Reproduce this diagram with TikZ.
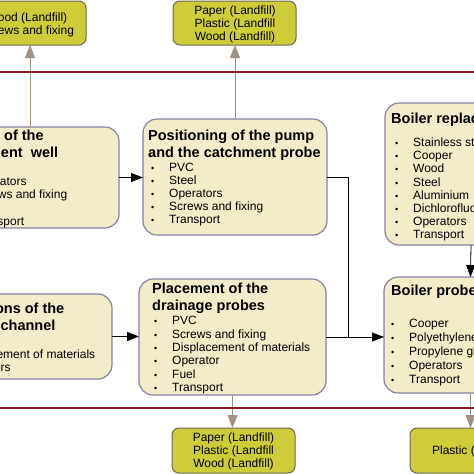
\documentclass[tikz,border=0pt]{standalone}
\usepackage{fontspec}
\setmainfont{Liberation Sans}
\usetikzlibrary{arrows.meta}
\definecolor{beigefill}{RGB}{243,236,200}
\definecolor{beigedraw}{RGB}{135,130,165}
\definecolor{yfill}{RGB}{207,204,58}
\definecolor{ydraw}{RGB}{105,105,85}
\definecolor{taupe}{RGB}{160,145,130}
\definecolor{darkred}{RGB}{145,20,25}
\newcommand{\bul}{\makebox[18pt][l]{\fontsize{9}{9}\selectfont\textbullet}}
\newcommand{\fs}{\rule{0pt}{10pt}}
\newcommand{\ft}{\rule{0pt}{11.5pt}}
\begin{document}
\begin{tikzpicture}[x=1pt,y=-1pt,
  box/.style={draw=beigedraw, fill=beigefill, line width=1.2pt, rounded corners=14pt, anchor=north west, inner sep=0pt, outer sep=0pt},
  ybox/.style={draw=ydraw, fill=yfill, line width=1pt, rounded corners=7pt, anchor=north west, inner sep=0pt, outer sep=0pt},
  title/.style={anchor=north west, inner sep=0pt, align=left, font=\bfseries\fontsize{14.5}{17}\selectfont},
  items/.style={anchor=north west, inner sep=0pt, align=left, font=\fontsize{12}{13.4}\selectfont},
  ytext/.style={anchor=north, inner sep=0pt, align=center, font=\fontsize{12}{13}\selectfont},
  flow/.style={draw=black, line width=0.8pt, -{Triangle[length=12pt,width=9pt]}},
  flowline/.style={draw=black, line width=0.8pt},
  outarrow/.style={draw=taupe, line width=1pt, -{Triangle[length=13pt,width=10pt]}},
  sepline/.style={draw=darkred, line width=2.5pt}]
\useasboundingbox (0,0) rectangle (474,474);
\clip (0,0) rectangle (474,474);
\fill[white] (0,0) rectangle (474,474);

% yellow output boxes
\node[ybox, minimum width=112pt, minimum height=44pt] (Y1) at (-26,1) {};
\node[ytext] (Y1t) at (27,11) {\fs Wood (Landfill)\\Screws and fixing};
\node[ybox, minimum width=123pt, minimum height=44pt] (Y2) at (173,1) {};
\node[ytext] (Y2t) at (235,4.5) {\fs Paper (Landfill)\\Plastic (Landfill\\Wood (Landfill)};
\node[ybox, minimum width=123pt, minimum height=45pt] (Y3) at (172,428) {};
\node[ytext] (Y3t) at (233.5,431.5) {\fs Paper (Landfill)\\Plastic (Landfill\\Wood (Landfill)};
\node[ybox, minimum width=129pt, minimum height=45pt] (Y4) at (410,428) {};
\node[ytext] (Y4t) at (474.5,444.5) {\fs Plastic (Landfill)};

% process boxes
\node[box, minimum width=171pt, minimum height=101pt] (A) at (-52,127) {};
\node[title] (At) at (-50,129) {\ft Drilling of the\\catchment\ \ well};
\node[items] (Ai) at (-45,161.5) {\fs\bul PVC\\\bul Operators\\\bul Screws and fixing\\\bul Fuel\\\bul Transport};

\node[box, minimum width=184pt, minimum height=116pt] (B) at (143,119) {};
\node[title] (Bt) at (148,129) {\ft Positioning of the pump\\and the catchment probe};
\node[items, font=\fontsize{12}{13}\selectfont] (Bi) at (151,161.5) {\fs\bul PVC\\\bul Steel\\\bul Operators\\\bul Screws and fixing\\\bul Transport};

\node[box, minimum width=181pt, minimum height=85pt] (C) at (-69,294) {};
\node[title] (Ct) at (-64,302) {\ft Excavations of the\\drainage channel};
\node[items] (Ci) at (-61,334.5) {\fs\bul Fuel\\\bul Displacement of materials\\\bul Operators};

\node[box, minimum width=187pt, minimum height=116pt] (D) at (139,279) {};
\node[title] (Dt) at (152,282) {\ft Placement of the\\drainage probes};
\node[items] (Di) at (154,314.5) {\fs\bul PVC\\\bul Screws and fixing\\\bul Displacement of materials\\\bul Operator\\\bul Fuel\\\bul Transport};

\node[box, minimum width=172pt, minimum height=142pt] (E) at (385,103) {};
\node[title] (Et) at (391,112) {\ft Boiler replacement};
\node[items, font=\fontsize{12}{13.14}\selectfont] (Ei) at (395,136.5) {\fs\bul Stainless steel\\\bul Cooper\\\bul Wood\\\bul Steel\\\bul Aluminium\\\bul Dichlorofluoromethane\\\bul Operators\\\bul Transport};

\node[box, minimum width=173pt, minimum height=116pt] (F) at (384,277) {};
\node[title] (Ft) at (391,284) {\ft Boiler probes};
\node[items, font=\fontsize{12}{14}\selectfont] (Fi) at (391,317.5) {\fs\bul Cooper\\\bul Polyethylene\\\bul Propylene glycol\\\bul Operators\\\bul Transport};

% process flow
\coordinate (J) at (348,337);
\draw[flow] (A.east) -- (B.west |- A.east);
\draw[flow] (C.east) -- (D.west |- C.east);
\draw[flowline] (B.east) -| (J);
\draw[flow] (D.east) -- (F.west |- D.east);
\draw[flow] (E.south) -- (F.north);

% outputs
\draw[outarrow] (Y1.south |- A.north) -- (Y1.south);
\draw[outarrow] (B.north) -- (B.north |- Y2.south);
\draw[outarrow] (D.south) -- (D.south |- Y3.north);
\draw[outarrow] (F.south) -- (F.south |- Y4.north);

% separators
\coordinate (R1a) at (0,72);
\coordinate (R1b) at (474,72);
\coordinate (R2a) at (0,408);
\coordinate (R2b) at (474,408);
\draw[sepline] (R1a) -- (R1b);
\draw[sepline] (R2a) -- (R2b);
\end{tikzpicture}
\end{document}
